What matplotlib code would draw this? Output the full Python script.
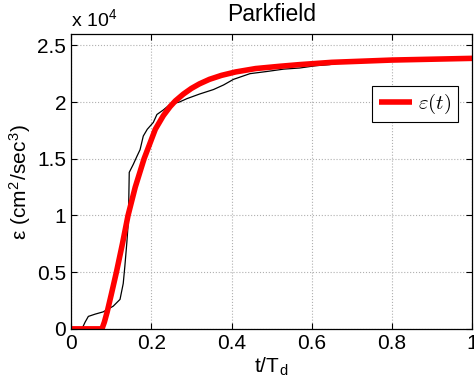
import matplotlib
matplotlib.use("Agg")
import matplotlib.pyplot as plt

plt.rcParams["font.family"] = ["Liberation Sans", "DejaVu Sans"]
plt.rcParams["mathtext.fontset"] = "cm"

# observed curve (t/Td, epsilon in units of 1e4 cm^2/sec^3)
obs_t = [0.0, 0.027, 0.035, 0.043, 0.06, 0.08, 0.105, 0.122, 0.13, 0.134,
         0.139, 0.143, 0.145, 0.155, 0.164, 0.172, 0.18, 0.19, 0.205, 0.214,
         0.23, 0.247, 0.27, 0.289, 0.32, 0.355, 0.38, 0.405, 0.446, 0.49,
         0.53, 0.57, 0.61, 0.645, 0.69, 0.75, 0.85, 0.95, 1.0]
obs_eps = [0.0, 0.0, 0.06, 0.11, 0.13, 0.15, 0.2, 0.26, 0.4, 0.55,
           0.76, 0.96, 1.38, 1.45, 1.52, 1.58, 1.70, 1.76, 1.82, 1.89,
           1.93, 1.98, 2.0, 2.03, 2.07, 2.11, 2.15, 2.2, 2.25, 2.27,
           2.29, 2.30, 2.32, 2.33, 2.36, 2.37, 2.38, 2.38, 2.385]

# model curve epsilon(t)
fit_t = [0.0, 0.077, 0.083, 0.09, 0.1, 0.113, 0.128, 0.142, 0.16, 0.182,
         0.21, 0.23, 0.247, 0.26, 0.28, 0.3, 0.32, 0.345, 0.375, 0.41,
         0.46, 0.52, 0.57, 0.65, 0.8, 1.0]
fit_eps = [0.0, 0.0, 0.06, 0.15, 0.3, 0.5, 0.75, 1.0, 1.25, 1.5,
           1.76, 1.88, 1.96, 2.01, 2.07, 2.12, 2.16, 2.2, 2.235, 2.265,
           2.295, 2.315, 2.33, 2.35, 2.37, 2.385]

x_ticks = [0, 0.2, 0.4, 0.6, 0.8, 1]
x_labels = ["0", "0.2", "0.4", "0.6", "0.8", "1"]
y_ticks = [0, 0.5, 1, 1.5, 2, 2.5]
y_labels = ["0", "0.5", "1", "1.5", "2", "2.5"]

fig = plt.figure(figsize=(4.74, 3.86), dpi=100)
ax = fig.add_axes([0.150, 0.148, 0.846, 0.764])

ax.plot(obs_t, obs_eps, color="black", linewidth=0.9)
ax.plot(fit_t, fit_eps, color="#ff0000", linewidth=4, label=r"$\varepsilon(t)$",
        solid_capstyle="butt", solid_joinstyle="round")

ax.set_xlim(0, 1)
ax.set_ylim(0, 2.6)
ax.set_xticks(x_ticks)
ax.set_xticklabels(x_labels)
ax.set_yticks(y_ticks)
ax.set_yticklabels(y_labels)
ax.tick_params(direction="in", top=True, right=True, labelsize=15,
               length=4, width=0.8)
ax.grid(True, linestyle=":", color="#b0b0b0", linewidth=0.8)
for spine in ax.spines.values():
    spine.set_linewidth(0.9)

ax.set_title("Parkfield", fontsize=16.5, pad=9)
ax.set_xlabel("t/T$_\\mathregular{d}$", fontsize=15, labelpad=2)
ax.set_ylabel("\u03b5 (cm$^\\mathregular{2}$/sec$^\\mathregular{3}$)", fontsize=15,
              labelpad=2)
ax.text(0.0, 1.01, "x 10$^\\mathregular{4}$", transform=ax.transAxes,
        fontsize=14, ha="left", va="bottom")

leg = ax.legend(loc="upper right", bbox_to_anchor=(0.99, 0.86), fontsize=15,
                handlelength=1.6, handletextpad=0.3, borderpad=0.3,
                fancybox=False, framealpha=1)
leg.get_frame().set_edgecolor("black")
leg.get_frame().set_linewidth(0.8)

fig.savefig("out.png", dpi=100)
